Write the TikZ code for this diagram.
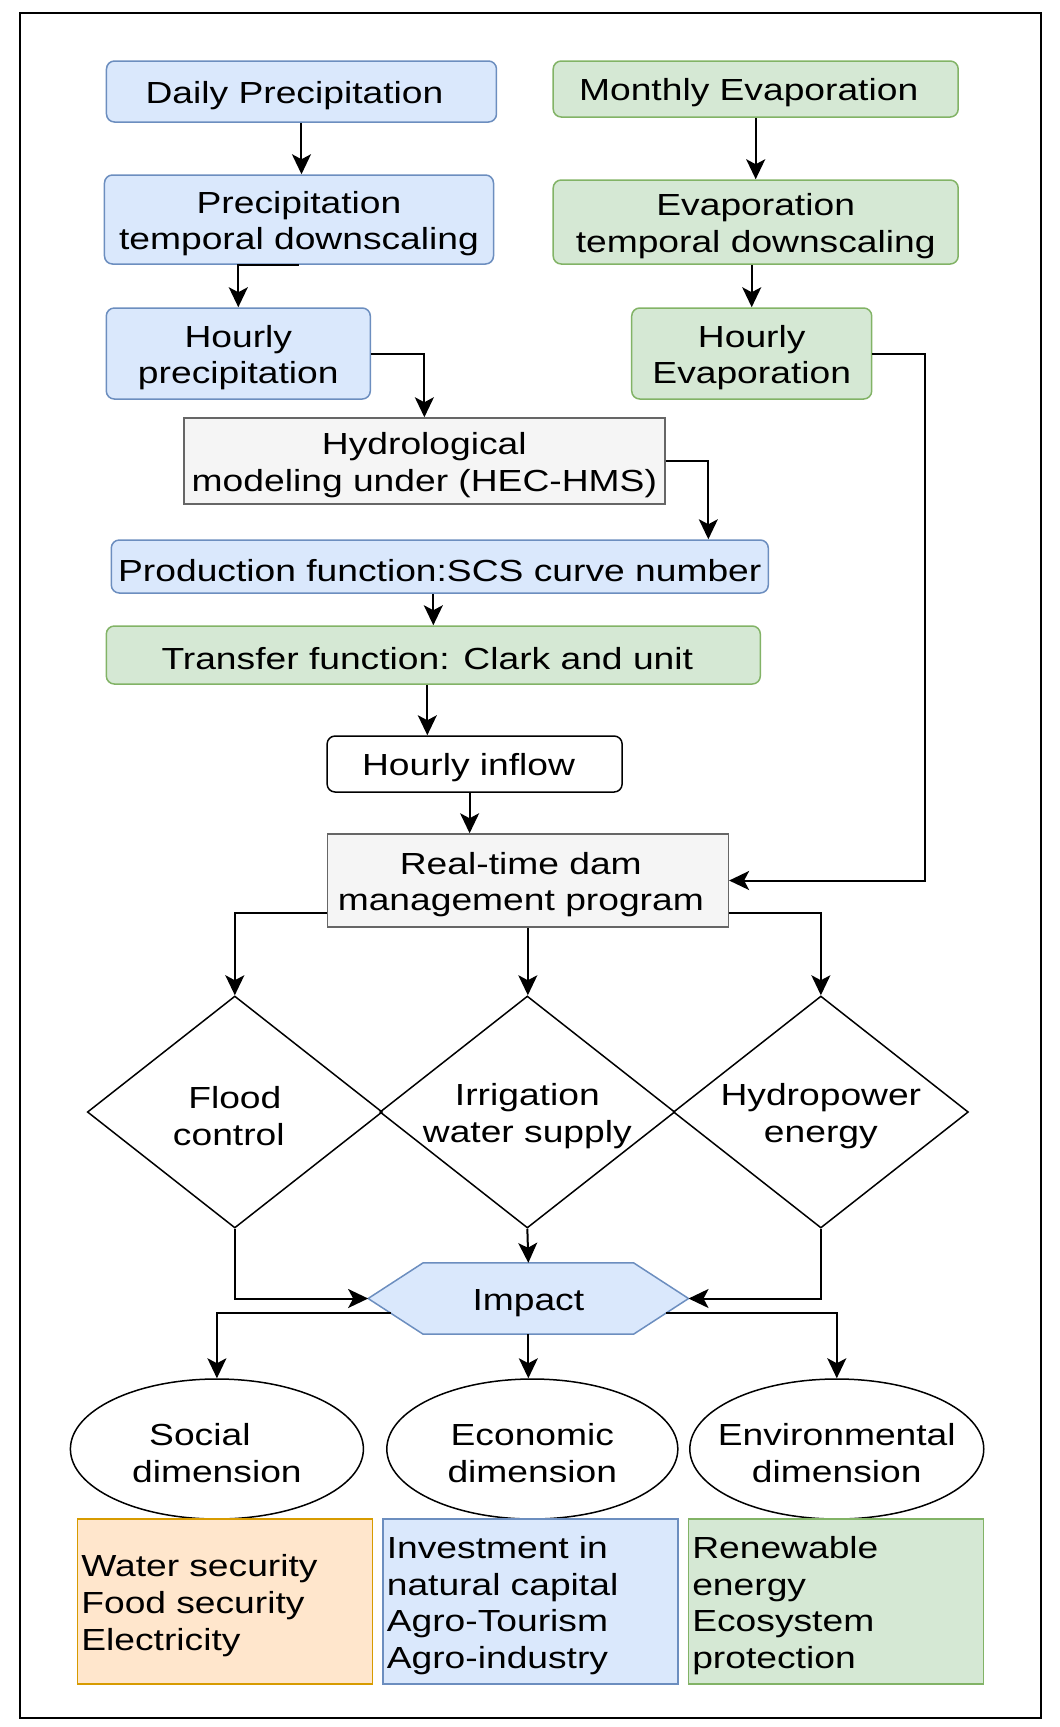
\documentclass[tikz,border=0pt]{standalone}
\usepackage{fontspec}
\setmainfont{Liberation Sans}[FakeStretch=1.22]
\definecolor{bluefill}{RGB}{218,232,252}
\definecolor{blueline}{RGB}{108,142,191}
\definecolor{greenfill}{RGB}{213,232,212}
\definecolor{greenline}{RGB}{130,179,102}
\definecolor{grayfill}{RGB}{245,245,245}
\definecolor{grayline}{RGB}{102,102,102}
\definecolor{orangefill}{RGB}{255,230,204}
\definecolor{orangeline}{RGB}{215,155,0}
\usepackage{tikz}
\usetikzlibrary{shapes.geometric,arrows.meta,positioning,calc,backgrounds}

\begin{document}
\begin{tikzpicture}[x=0.995pt,y=-1pt,>={Stealth[length=20pt,width=19pt,inset=5pt]},
  font=\fontsize{30.5}{36.7}\selectfont,execute at begin node={\rule{0pt}{30pt}}]
  \tikzstyle{flowbox}=[rectangle,line width=1.5pt,inner sep=0pt,align=center]
  \tikzstyle{twoline}=[text height=67pt]
  \tikzstyle{bluebox}=[flowbox,rounded corners=8pt,draw=blueline,fill=bluefill]
  \tikzstyle{greenbox}=[flowbox,rounded corners=8pt,draw=greenline,fill=greenfill]
  \tikzstyle{graybox}=[flowbox,draw=grayline,fill=grayfill]
  \tikzstyle{plainbox}=[flowbox,rounded corners=8pt,draw=black]
  \tikzstyle{goal}=[diamond,draw,line width=1.5pt,twoline,inner xsep=0pt,inner ysep=-6pt,aspect=1.276,minimum width=295pt,minimum height=232pt,align=center]
  \tikzstyle{dimension}=[ellipse,draw,line width=1.5pt,twoline,inner xsep=-15pt,inner ysep=0pt,minimum width=293pt,minimum height=140pt,align=center]
  \tikzstyle{itemlist}=[rectangle,line width=1.5pt,inner xsep=4pt,text width=287pt,minimum height=165pt,align=left]
  \tikzstyle{link}=[->,line width=2pt]

  \useasboundingbox (0,0) rectangle (1065.3,1727);
  \draw[line width=2pt] (20,13) rectangle (1046,1718);

  % inputs
  \node[bluebox,minimum width=390pt,minimum height=61pt] (dp) at (303,91.5) {Daily Precipitation\hspace*{14pt}};
  \node[greenbox,minimum width=405pt,minimum height=56pt] (me) at (759.5,89) {Monthly Evaporation\hspace*{14pt}};
  \node[bluebox,twoline,minimum width=389pt,minimum height=89pt] (pds) at (300.5,219.5) {Precipitation\\temporal downscaling};
  \node[greenbox,twoline,minimum width=405pt,minimum height=84pt] (eds) at (759.5,222) {Evaporation\\temporal downscaling};
  \node[bluebox,twoline,minimum width=264pt,minimum height=91pt] (hp) at (239.5,353.5) {Hourly\\precipitation};
  \node[greenbox,twoline,minimum width=240pt,minimum height=91pt] (he) at (755.5,353.5) {Hourly\\Evaporation};

  % hydrological model
  \node[graybox,twoline,minimum width=481pt,minimum height=86pt] (hyd) at (426.5,461) {Hydrological\\modeling under (HEC-HMS)};
  \node[bluebox,minimum width=657pt,minimum height=53pt] (prod) at (442,566.5) {Production function:SCS curve number};
  \node[greenbox,minimum width=654pt,minimum height=58pt] (trans) at (435.5,655) {Transfer function: Clark and unit\hspace*{12pt}};
  \node[plainbox,minimum width=295pt,minimum height=56pt] (inflow) at (477,764) {Hourly inflow\hspace*{12pt}};
  \node[graybox,twoline,minimum width=401pt,minimum height=93pt] (dam) at (530.5,880.5) {Real-time dam\hspace*{14pt}\\management program\hspace*{14pt}};

  % objectives
  \node[goal] (flood) at (236,1112) {Flood\\control\hspace*{12pt}};
  \node[goal] (irr) at (530,1112) {Irrigation\\water supply};
  \node[goal] (hydro) at (825,1112) {Hydropower\\energy};

  \node[minimum width=320pt,minimum height=71pt,inner sep=0pt] (imp) at (531,1298.5) {Impact};
  \begin{scope}[on background layer]
    \draw[line width=1.5pt,draw=blueline,fill=bluefill] (imp.west) -- ([xshift=55pt]imp.north west) -- ([xshift=-55pt]imp.north east)
      -- (imp.east) -- ([xshift=-55pt]imp.south east) -- ([xshift=55pt]imp.south west) -- cycle;
  \end{scope}

  % dimensions
  \node[dimension] (social) at (218,1449) {Social\hspace*{34pt}\\dimension};
  \node[dimension,minimum width=291pt] (econ) at (535,1449) {Economic\\dimension};
  \node[dimension] (env) at (841,1449) {Environmental\\dimension};
  \node[itemlist,draw=orangeline,fill=orangefill] (socl) at (226,1601.5) {Water security\\Food security\\Electricity};
  \node[itemlist,draw=blueline,fill=bluefill] (econl) at (533,1601.5) {Investment in\\natural capital\\Agro-Tourism\\Agro-industry};
  \node[itemlist,draw=greenline,fill=greenfill] (envl) at (840,1601.5) {Renewable\\energy\\Ecosystem\\protection};

  % connectors
  \draw[link] (dp.south) -- (dp.south |- pds.north);
  \draw[link] (me.south) -- (me.south |- eds.north);
  \draw[link] (pds.south) -| (hp.north);
  \draw[link] (he.north |- eds.south) -- (he.north);
  \draw[link] (hp.east) -| (hyd.north);
  \draw[link] (hyd.east) -| ($(prod.north east)+(-61,0)$);
  \draw[link] (trans.north |- prod.south) -- (trans.north);
  \draw[link] ([xshift=-6pt]trans.south) -- ([xshift=-6pt]trans.south |- inflow.north);
  \draw[link] ([xshift=-5pt]inflow.south) -- ([xshift=-5pt]inflow.south |- dam.north);
  \draw[link] (he.east) -- ++(53,0) |- (dam.east);
  \draw[link] ([yshift=-32pt]dam.west) -| (flood.north);
  \draw[link] (dam.south) -- (dam.south |- irr.north);
  \draw[link] ([yshift=-32pt]dam.east) -| (hydro.north);
  \draw[link] (flood.south) |- (imp.west);
  \draw[link] (irr.south) -- (imp.north);
  \draw[link] (hydro.south) |- (imp.east);
  \draw[link] ($(imp.west)!0.41!([xshift=55pt]imp.south west)$) -| (social.north);
  \draw[link] (imp.south) -- (imp.south |- econ.north);
  \draw[link] ($(imp.east)!0.41!([xshift=-55pt]imp.south east)$) -| (env.north);
\end{tikzpicture}
\end{document}
